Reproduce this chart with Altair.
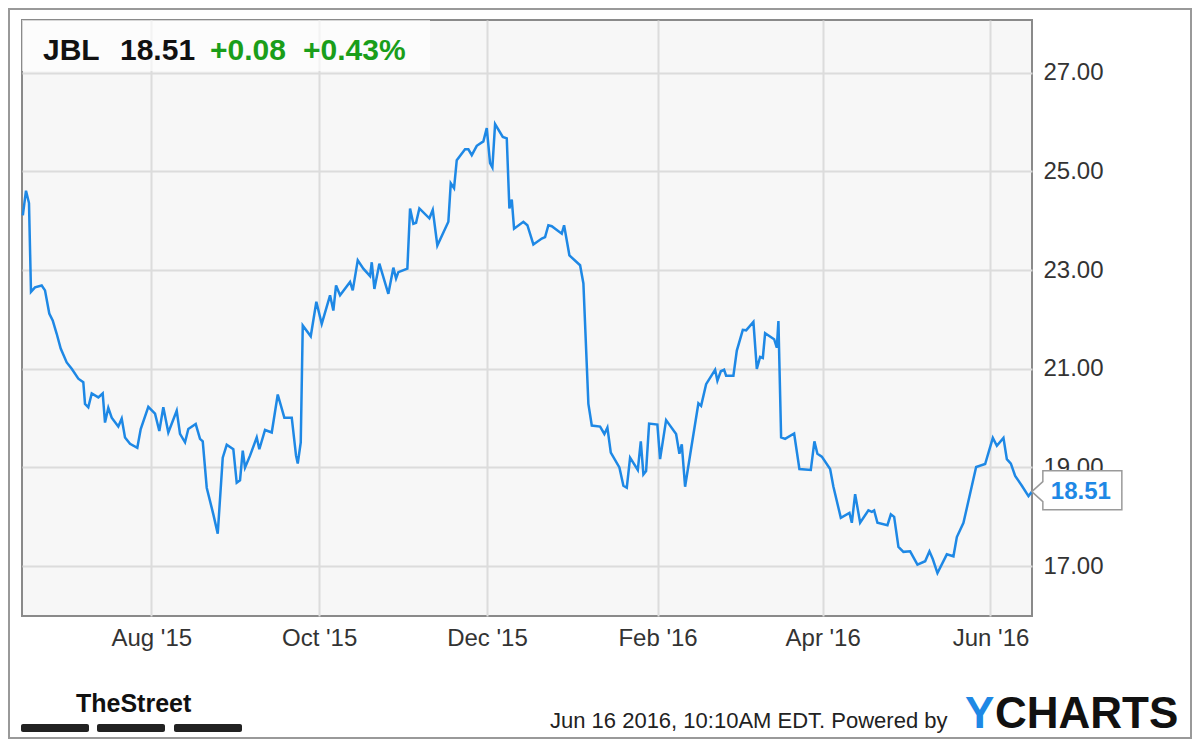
import altair as alt
import pandas as pd

# ---- data ----
# days after 2015-06-15
day_offsets = [0.3, 1.45, 2.54, 3.27, 4.73, 7.16, 8.36, 9.92, 11.16, 12.61, 14.07, 16.25, 18.07,
               20.47, 22.28, 22.9, 24.1, 25.34, 27.74, 29.33, 30.17, 31.37, 32.6, 35.0, 36.24,
               37.44, 39.26, 41.91, 43.15, 45.91, 48.35, 49.91, 51.36, 53.18, 56.23, 57.43,
               59.25, 60.45, 63.14, 64.7, 65.69, 67.14, 69.54, 71.14, 72.96, 74.41, 76.81,
               78.04, 79.24, 80.23, 81.06, 82.88, 85.31, 86.26, 88.33, 90.77, 92.95, 95.35,
               98.04, 99.6, 100.22, 101.31, 102.04, 104.94, 106.98, 108.94, 111.96, 113.16,
               114.14, 115.6, 119.23, 120.21, 122.03, 124.07, 126.5, 127.12, 128.07, 129.88,
               133.15, 134.97, 135.95, 136.79, 140.06, 141.04, 142.24, 143.22, 144.42, 148.06,
               149.29, 150.96, 154.96, 155.83, 157.03, 158.01, 161.03, 162.23, 163.47, 165.28,
               167.68, 168.92, 170.12, 170.96, 171.94, 174.74, 176.19, 177.14, 178.01, 178.84,
               182.22, 183.68, 185.86, 188.91, 190.11, 191.31, 192.55, 196.18, 197.02, 198.95,
               202.84, 204.04, 205.85, 207.09, 210.11, 211.67, 212.76, 214.0, 217.12, 218.58,
               219.81, 221.01, 223.81, 224.9, 225.85, 226.83, 227.92, 230.93, 231.91, 234.1,
               237.73, 238.93, 239.8, 241.0, 243.07, 245.84, 246.82, 248.64, 251.91, 252.74,
               253.98, 255.18, 255.91, 258.56, 259.8, 261.98, 263.18, 265.83, 267.07, 268.27,
               269.25, 270.08, 273.36, 274.34, 274.92, 275.9, 277.35, 280.63, 282.55, 286.69,
               288.0, 289.09, 290.69, 293.71, 294.91, 297.6, 300.73, 301.6, 302.8, 304.62,
               307.63, 308.87, 309.71, 310.91, 314.54, 315.78, 316.98, 318.54, 320.36, 322.79,
               325.45, 328.25, 329.81, 331.05, 332.72, 336.13, 338.53, 339.77, 342.17, 343.4,
               346.78, 350.05, 352.85, 354.31, 356.71, 357.94, 359.4, 360.96, 363.4, 365.8,
               367.03]
prices = [24.11, 24.61, 24.36, 22.56, 22.65, 22.69, 22.59, 22.12, 21.98, 21.71, 21.41, 21.13, 21.0,
          20.8, 20.73, 20.29, 20.22, 20.5, 20.42, 20.5, 19.91, 20.21, 20.01, 19.83, 19.99,
          19.61, 19.48, 19.40, 19.78, 20.23, 20.09, 19.74, 20.22, 19.71, 20.15, 19.68,
          19.51, 19.78, 19.88, 19.58, 19.53, 18.59, 18.05, 17.66, 19.20, 19.46, 19.37,
          18.69, 18.74, 19.34, 19.0, 19.24, 19.61, 19.37, 19.76, 19.71, 20.48, 20.01,
          20.01, 19.24, 19.08, 19.51, 21.88, 21.66, 22.36, 21.91, 22.49, 22.18,
          22.69, 22.49, 22.76, 22.59, 23.20, 23.03, 22.88, 23.16, 22.62, 23.13,
          22.52, 23.05, 22.83, 22.96, 23.03, 24.25, 23.94, 23.96, 24.25, 24.05,
          24.22, 23.50, 23.98, 24.76, 24.66, 25.23, 25.45, 25.45, 25.33, 25.52,
          25.61, 25.88, 25.17, 25.08, 25.96, 25.70, 25.67, 24.25, 24.43, 23.84,
          23.98, 23.91, 23.52, 23.64, 23.67, 23.91, 23.89, 23.74, 23.91, 23.30,
          23.10, 22.73, 20.29, 19.85, 19.83, 19.68, 19.81, 19.30, 19.0, 18.63,
          18.59, 19.20, 18.95, 19.53, 18.86, 18.93, 19.89, 19.87, 19.17, 19.96,
          19.68, 19.28, 19.47, 18.61, 19.34, 20.30, 20.25, 20.69, 20.98, 20.76,
          20.95, 20.98, 20.86, 20.86, 21.37, 21.79, 21.78, 21.95, 21.00, 21.24,
          21.22, 21.72, 21.60, 21.43, 21.97, 19.61, 19.58, 19.69, 18.97, 18.95,
          19.53, 19.28, 19.22, 18.97, 18.61, 17.98, 18.08, 17.88, 18.46, 17.88,
          18.13, 18.10, 18.13, 17.88, 17.83, 18.05, 18.0, 17.39, 17.29, 17.30,
          17.03, 17.10, 17.30, 17.14, 16.86, 17.24, 17.20, 17.59, 17.88, 18.18,
          19.01, 19.07, 19.60, 19.44, 19.60, 19.17, 19.08, 18.83, 18.63, 18.42,
          18.51]

ticker = "JBL"
last_price = "18.51"
change_abs = "+0.08"
change_pct = "+0.43%"
y_ticks = [17, 19, 21, 23, 25, 27]
footer_text = "Jun 16 2016, 10:10AM EDT.  Powered by"
brand_left = "TheStreet"
brand_y = "Y"
brand_rest = "CHARTS"

dates = (pd.Timestamp("2015-06-15") + pd.to_timedelta(day_offsets, unit="D")).strftime("%Y-%m-%dT%H:%M:%S")
df = pd.DataFrame({"date": dates, "price": prices})
last_df = df.tail(1).assign(label=last_price)

BLUE = "#1e88e5"
GREEN = "#1a9e1a"
FONT = "Liberation Sans"

x_scale = alt.Scale(domain=[alt.DateTime(year=2015, month=6, date=15),
                            alt.DateTime(year=2016, month=6, date=16, hours=2)])
y_scale = alt.Scale(domain=[15.99, 28.07], nice=False, zero=False)

x_axis = alt.Axis(
    values=[alt.DateTime(year=2015, month=8, date=1), alt.DateTime(year=2015, month=10, date=1),
            alt.DateTime(year=2015, month=12, date=1), alt.DateTime(year=2016, month=2, date=1),
            alt.DateTime(year=2016, month=4, date=1), alt.DateTime(year=2016, month=6, date=1)],
    format="%b '%y", title=None, domain=False, ticks=False, labelFontSize=24,
    labelColor="#333333", labelFont=FONT, labelPadding=10, grid=True,
    gridColor="#dcdcdc", gridWidth=2, labelFlush=False, zindex=0)
y_axis = alt.Axis(
    values=y_ticks, format=".2f", orient="right", title=None, domain=False, ticks=False,
    labelFontSize=24, labelColor="#333333", labelFont=FONT, labelPadding=11, grid=True,
    gridColor="#dcdcdc", gridWidth=2, labelAlign="left", zindex=0)

base = alt.Chart(df)

line = base.mark_line(color=BLUE, strokeWidth=2.5, interpolate="linear").encode(
    x=alt.X("date:T", scale=x_scale, axis=x_axis),
    y=alt.Y("price:Q", scale=y_scale, axis=y_axis),
)

header_box = alt.Chart(df.head(1)).mark_rect(fill="white", opacity=0.65).encode(
    x=alt.value(0), x2=alt.value(408), y=alt.value(0), y2=alt.value(51))


def label(txt, xpos, ypos, size, color, bold=True, font=FONT):
    return alt.Chart(pd.DataFrame({"t": [txt]})).mark_text(
        align="left", baseline="alphabetic", fontSize=size, color=color,
        fontWeight="bold" if bold else "normal", font=font).encode(
        text="t:N", x=alt.value(xpos), y=alt.value(ypos))


h1 = label(ticker, 21, 40, 30, "#111111")
h2 = label(last_price, 98, 40, 30, "#111111")
h3 = label(change_abs, 188, 40, 30, GREEN)
h4 = label(change_pct, 281, 40, 30, GREEN)

tag_path = "M0,0 L0.275,-0.25 L0.275,-0.525 L2.25,-0.525 L2.25,0.45 L0.275,0.45 L0.275,0.25 Z"
tag = alt.Chart(last_df).mark_point(
    shape=tag_path, size=6400, filled=True, fill="white", stroke="#9a9a9a",
    strokeWidth=1.5, opacity=1).encode(
    x=alt.X("date:T", scale=x_scale), y=alt.Y("price:Q", scale=y_scale))
tag_text = alt.Chart(last_df).mark_text(
    align="center", baseline="middle", fontSize=24, fontWeight="bold", color=BLUE,
    font=FONT, dx=49).encode(
    x=alt.X("date:T", scale=x_scale), y=alt.Y("price:Q", scale=y_scale), text="label:N")

foot = label(footer_text, 528, 708, 22, "#222222", bold=False)
yc1 = label(brand_y, 943, 708, 44, BLUE)
yc2 = label(brand_rest, 973, 708, 44, "#111111")
street = label(brand_left, 54, 692, 25, "#111111")

bar_df = pd.DataFrame({"k": [0]})
bars = [alt.Chart(bar_df).mark_rect(fill="#222222", cornerRadius=2).encode(
    x=alt.value(a), x2=alt.value(b), y=alt.value(704), y2=alt.value(712))
    for a, b in [(-1, 67), (75, 143), (152, 220)]]

outer = alt.Chart(bar_df).mark_rect(fill=None, stroke="#999999", strokeWidth=2).encode(
    x=alt.value(-13), x2=alt.value(1169), y=alt.value(-11), y2=alt.value(718))

chart = alt.layer(line, header_box, h1, h2, h3, h4, tag, tag_text, foot, yc1, yc2,
                  street, *bars, outer).properties(
    width=1010, height=596,
    autosize=alt.AutoSizeParams(type="none"),
    padding={"left": 14, "top": 12, "right": 160, "bottom": 123},
    background="white",
).configure_view(fill="#f7f7f7", stroke="#8a8a8a", strokeWidth=2)

chart.save("out.html", embed_options={"renderer": "svg", "actions": False})
